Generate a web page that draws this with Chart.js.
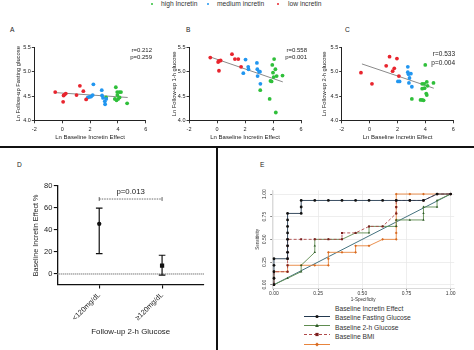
<!DOCTYPE html>
<html>
<head>
<meta charset="utf-8">
<script src="https://cdn.jsdelivr.net/npm/chart.js@4.4.1/dist/chart.umd.min.js"></script>
<style>
html,body{margin:0;padding:0;background:#fff;}
body{width:474px;height:350px;position:relative;overflow:hidden;font-family:"Liberation Sans",Arial,sans-serif;color:#222;}
canvas{position:absolute;display:block;}
.lbl{position:absolute;white-space:nowrap;line-height:1;}
.rule{position:absolute;background:#111;}
.dot{position:absolute;border-radius:50%;}
</style>
</head>
<body>
<div class="rule" style="left:0;top:146.2px;width:474px;height:1.6px"></div>
<div class="rule" style="left:216.2px;top:147px;width:1.6px;height:203px"></div>
<div class="lbl" style="left:10px;top:27.4px;font-size:6.6px">A</div>
<div class="lbl" style="left:186px;top:27.4px;font-size:6.6px">B</div>
<div class="lbl" style="left:345px;top:27.4px;font-size:6.6px">C</div>
<div class="lbl" style="left:17px;top:161.7px;font-size:6.6px">D</div>
<div class="lbl" style="left:260px;top:161.7px;font-size:6.6px">E</div>
<div id="topLegend"></div>
<div id="legendE"></div>
<script>
// ---------------- shared categories / ticks ----------------
const groupLabels = ['high Incretin', 'medium incretin', 'low incretin'];
const xTickValues = [-2, 0, 2, 4, 6];
const yTickValues = [4.0, 4.5, 5.0, 5.5];
const xTitleABC = 'Ln Baseline Incretin Effect';

// ---------------- panel A ----------------
const aLow = [[-0.50,4.58],[0.07,4.38],[0.10,4.51],[0.17,4.53],[0.26,4.55],[1.03,4.52],[1.27,4.71],[1.52,4.60],[1.72,4.43]];
const aMedium = [[1.84,4.47],[1.96,4.48],[2.08,4.49],[2.19,4.52],[2.24,4.74],[2.84,4.62],[2.86,4.51],[2.93,4.46],[3.06,4.39],[3.08,4.33],[3.16,4.44]];
const aHigh = [[3.15,4.47],[3.85,4.68],[3.95,4.58],[4.10,4.58],[4.22,4.58],[3.78,4.44],[3.90,4.41],[4.02,4.44],[3.96,4.52],[4.12,4.47],[4.66,4.35]];
const aFit = [[-0.5,4.57],[4.7,4.47]];
const aStats = ['r=0.212','p=0.259'];
const aYTitle = 'Ln Follow-up Fasting glucose';

// ---------------- panel B ----------------
const bLow = [[-0.48,5.29],[0.08,5.20],[0.14,5.22],[0.26,5.23],[0.14,5.02],[1.07,5.36],[1.28,5.26],[1.52,5.26],[1.72,5.10]];
const bMedium = [[2.04,5.25],[1.88,4.97],[2.23,5.10],[2.25,5.05],[2.85,5.18],[2.88,5.05],[2.90,4.91],[3.00,5.00],[3.07,5.00],[3.10,4.75]];
const bHigh = [[3.09,4.62],[3.76,4.44],[4.20,4.16],[4.08,5.26],[3.95,5.14],[4.17,5.05],[4.00,4.98],[4.26,4.91],[4.05,4.89],[3.82,4.81],[3.90,4.80],[4.68,4.92]];
const bFit = [[-0.45,5.30],[4.7,4.79]];
const bStats = ['r=0.558','p=0.001'];
const bYTitle = 'Ln Follow-up 1-h glucose';

// ---------------- panel C ----------------
const cLow = [[-0.62,4.98],[0.17,4.75],[1.19,5.12],[1.43,5.31],[1.96,5.27],[1.77,5.07],[1.65,5.01],[2.10,4.91]];
const cMedium = [[2.74,5.10],[2.74,4.99],[2.79,4.95],[2.96,4.96],[2.86,4.87],[2.82,4.77],[2.03,4.80],[2.15,4.80],[3.03,4.69]];
const cHigh = [[3.99,5.14],[3.03,4.44],[3.65,4.42],[3.77,4.42],[3.87,4.41],[3.77,4.75],[3.91,4.75],[4.10,4.79],[4.58,4.77],[4.15,4.71],[3.77,4.65],[3.94,4.66],[4.06,4.55],[4.10,4.52]];
const cFit = [[-0.55,5.16],[4.6,4.66]];
const cStats = ['r=0.533','p=0.004'];
const cYTitle = 'Ln Follow-up 2-h glucose';

// ---------------- panel D ----------------
const dGroups = ['<120mg/dL', '\u2265120mg/dL'];
const dMean = [45.5, 7.5];
const dUpper = [59.7, 17.0];
const dLower = [18.5, -1.0];
const dYTicks = [0, 20, 40, 60, 80];
const dPText = 'p=0.013';
const dPLevel = 68;
const dYTitle = 'Baseline Incretin Effect %';
const dXTitle = 'Follow-up 2-h Glucose';

// ---------------- panel E (ROC) ----------------
const rocTicks = [0, 0.25, 0.5, 0.75, 1];
const rocNames = ['Baseline Incretin Effect', 'Baseline Fasting Glucose', 'Baseline 2-h Glucose', 'Baseline BMI'];
const incretinFpr  = [0,0,0,0,0,.077,.077,.077,.077,.077,.077,.077,.077,.154,.154,.154,.231,.308,.385,.462,.538,.615,.692,.769,.846,.923,1];
const incretinSens = [0,.071,.143,.214,.286,.286,.357,.429,.5,.571,.643,.714,.786,.786,.857,.929,.929,.929,.929,.929,.929,.929,.929,.929,.929,1,1];
const fastingFpr   = [0,.077,.154,.154,.231,.231,.231,.308,.385,.462,.538,.538,.615,.692,.692,.769,.846,.846,.846,.923,.923,1];
const fastingSens  = [0,.071,.143,.214,.357,.429,.5,.5,.5,.571,.571,.643,.643,.643,.714,.714,.714,.786,.857,.857,.929,1];
const twoHFpr      = [0,0,0,.077,.077,.077,.077,.077,.077,.154,.231,.308,.385,.385,.462,.538,.615,.692,.692,.692,.769,.846,.923,1];
const twoHSens     = [0,.071,.143,.143,.214,.286,.357,.429,.5,.5,.5,.5,.5,.571,.571,.643,.643,.786,.857,.929,.929,.929,1,1];
const bmiFpr       = [0,0,0,.077,.077,.154,.231,.308,.308,.308,.385,.462,.462,.538,.615,.692,.692,.692,.692,.692,.692,.692,.692,.769,.846,.923,1];
const bmiSens      = [0,.071,.143,.143,.214,.214,.214,.214,.286,.357,.357,.357,.429,.429,.5,.5,.571,.643,.714,.786,.857,.929,1,1,1,1,1];
const refFpr = [0, 1];
const refSens = [0, 1];

// ---------------- helpers ----------------
const FONT = '"Liberation Sans", Arial, sans-serif';
Chart.defaults.font.family = FONT;
Chart.defaults.color = '#222';
const COL_HIGH = '#2fbf3a', COL_MED = '#2196f0', COL_LOW = '#e8252e';

function mkCanvas(box){
  const c = document.createElement('canvas');
  c.width = box.w; c.height = box.h;
  c.style.left = box.x + 'px'; c.style.top = box.y + 'px';
  c.style.width = box.w + 'px'; c.style.height = box.h + 'px';
  document.body.appendChild(c);
  return c;
}
function zeroPad(s){ s.paddingLeft = 0; s.paddingRight = 0; s.paddingTop = 0; s.paddingBottom = 0; }
function fixX(h){ return s => { s.height = h; zeroPad(s); }; }
function fixY(w){ return s => { s.width = w; zeroPad(s); }; }
function toXY(arr){ return arr.map(p => ({x: p[0], y: p[1]})); }
function zip(xs, ys){ return xs.map((x, i) => ({x: x, y: ys[i]})); }
function padFor(box, area, yW, xH){
  return {left: area.l - box.x - yW, top: area.t - box.y, right: box.x + box.w - area.r, bottom: box.y + box.h - area.b - xH};
}
const baseOpts = {responsive: false, animation: false, devicePixelRatio: 1, events: [],
  plugins: {legend: {display: false}, tooltip: {enabled: false}}};

function statsPlugin(lines, box, right, top, gap, size){
  return {id: 'stats', afterDraw(chart){
    const ctx = chart.ctx; ctx.save();
    ctx.font = size + 'px ' + FONT; ctx.fillStyle = '#222';
    ctx.textAlign = 'right'; ctx.textBaseline = 'middle';
    lines.forEach((t, i) => ctx.fillText(t, right - box.x, top - box.y + i * gap));
    ctx.restore();
  }};
}

function scatterPanel(box, area, yW, xH, low, med, high, fit, yTitle, stats, st){
  const cv = mkCanvas(box);
  const pt = c => ({backgroundColor: c, pointRadius: 1.9, pointBorderWidth: 0, borderWidth: 0});
  new Chart(cv, {
    type: 'scatter',
    data: {datasets: [
      Object.assign({label: groupLabels[2], data: toXY(low)}, pt(COL_LOW)),
      Object.assign({label: groupLabels[1], data: toXY(med)}, pt(COL_MED)),
      Object.assign({label: groupLabels[0], data: toXY(high)}, pt(COL_HIGH)),
      {label: 'fit', data: toXY(fit), showLine: true, borderColor: '#8a8a8a', borderWidth: 1, pointRadius: 0, order: 5}
    ]},
    options: Object.assign({}, baseOpts, {
      layout: {padding: padFor(box, area, yW, xH)},
      scales: {
        x: {type: 'linear', min: -2, max: 6,
          afterBuildTicks: s => { s.ticks = xTickValues.map(v => ({value: v})); },
          afterFit: fixX(xH),
          ticks: {font: {size: 5.5}, color: '#222', padding: 2.4, maxRotation: 0, autoSkip: false, callback: v => String(v)},
          grid: {drawOnChartArea: false, tickLength: 3, color: '#222', lineWidth: 0.9},
          border: {color: '#222', width: 1},
          title: {display: true, text: xTitleABC, font: {size: 6}, color: '#222', padding: 0}},
        y: {type: 'linear', min: 4, max: 5.5,
          afterBuildTicks: s => { s.ticks = yTickValues.map(v => ({value: v})); },
          afterFit: fixY(yW),
          ticks: {font: {size: 5.5}, color: '#222', padding: 1, autoSkip: false, callback: v => v.toFixed(1)},
          grid: {drawOnChartArea: false, tickLength: 2.5, color: '#222', lineWidth: 0.9},
          border: {color: '#222', width: 1},
          title: {display: true, text: yTitle, font: {size: 5.8}, color: '#222', padding: 0}}
      }
    }),
    plugins: [statsPlugin(stats, box, st.right, st.top, st.gap, st.size)]
  });
}

// top legend
(function(){
  const host = document.getElementById('topLegend');
  const items = [{dot: 152, text: 161, col: COL_HIGH}, {dot: 208, text: 217, col: COL_MED}, {dot: 278, text: 288, col: COL_LOW}];
  items.forEach((it, i) => {
    const d = document.createElement('div'); d.className = 'dot';
    d.style.cssText = `left:${it.dot - 1.3}px;top:${4 - 1.3}px;width:2.6px;height:2.6px;background:${it.col}`;
    host.appendChild(d);
    const t = document.createElement('div'); t.className = 'lbl';
    t.style.cssText = `left:${it.text}px;top:0.7px;font-size:6.7px;color:#333`;
    t.textContent = groupLabels[i];
    host.appendChild(t);
  });
})();

// panels A, B, C
scatterPanel({x: 0, y: 38, w: 160, h: 104}, {l: 34.3, t: 47.4, r: 145.8, b: 120.3}, 19.3, 20.9,
  aLow, aMedium, aHigh, aFit, aYTitle, aStats, {right: 152, top: 50.5, gap: 7, size: 6});
scatterPanel({x: 160, y: 38, w: 152, h: 104}, {l: 189, t: 47.4, r: 301, b: 120.3}, 18.5, 20.9,
  bLow, bMedium, bHigh, bFit, bYTitle, bStats, {right: 307, top: 50.5, gap: 7, size: 6});
scatterPanel({x: 312, y: 38, w: 162, h: 104}, {l: 341.7, t: 47.4, r: 453.3, b: 120.3}, 20.5, 20.9,
  cLow, cMedium, cHigh, cFit, cYTitle, cStats, {right: 455, top: 54.5, gap: 8.5, size: 6.5});

// panel D
(function(){
  const box = {x: 0, y: 178, w: 215, h: 164};
  const area = {l: 57.3, t: 185.8, r: 204, b: 285};
  const yW = 25.6, xH = 51.7;
  const cv = mkCanvas(box);
  const deco = {id: 'deco',
    beforeDatasetsDraw(chart){
      const {ctx, chartArea, scales: {x, y}} = chart;
      ctx.save();
      // dotted zero line
      ctx.strokeStyle = '#7a7a7a'; ctx.lineWidth = 1.4; ctx.setLineDash([1, 1]);
      ctx.beginPath(); ctx.moveTo(chartArea.left, y.getPixelForValue(0)); ctx.lineTo(chartArea.right, y.getPixelForValue(0)); ctx.stroke();
      // error bars
      ctx.setLineDash([]); ctx.strokeStyle = '#111'; ctx.lineWidth = 1.2;
      dMean.forEach((m, i) => {
        const px = x.getPixelForValue(i), pt = y.getPixelForValue(dUpper[i]), pb = y.getPixelForValue(dLower[i]);
        ctx.beginPath();
        ctx.moveTo(px, pt); ctx.lineTo(px, pb);
        ctx.moveTo(px - 3.3, pt); ctx.lineTo(px + 3.3, pt);
        ctx.moveTo(px - 3.3, pb); ctx.lineTo(px + 3.3, pb);
        ctx.stroke();
      });
      // significance bracket
      const py = y.getPixelForValue(dPLevel), x0 = x.getPixelForValue(0), x1 = x.getPixelForValue(1);
      ctx.strokeStyle = '#444'; ctx.lineWidth = 0.8; ctx.setLineDash([1.5, 1]);
      ctx.beginPath(); ctx.moveTo(x0, py); ctx.lineTo(x1, py); ctx.stroke();
      ctx.setLineDash([]);
      ctx.beginPath(); ctx.moveTo(x0, py - 2); ctx.lineTo(x0, py + 2); ctx.moveTo(x1, py - 2); ctx.lineTo(x1, py + 2); ctx.stroke();
      ctx.fillStyle = '#222'; ctx.font = '7.8px ' + FONT; ctx.textAlign = 'center'; ctx.textBaseline = 'middle';
      ctx.fillText(dPText, (x0 + x1) / 2, py - 6.8);
      ctx.restore();
    }};
  new Chart(cv, {
    type: 'scatter',
    data: {datasets: [{label: 'mean', data: dMean.map((m, i) => ({x: i, y: m})),
      pointStyle: ['circle', 'rect'], pointRadius: [2.2, 3.0], backgroundColor: '#111', pointBorderWidth: 0, borderWidth: 0}]},
    options: Object.assign({}, baseOpts, {
      layout: {padding: padFor(box, area, yW, xH)},
      scales: {
        x: {type: 'linear', min: -0.667, max: 1.667,
          afterBuildTicks: s => { s.ticks = dGroups.map((g, i) => ({value: i})); },
          afterFit: fixX(xH),
          ticks: {font: {size: 7.2}, color: '#222', padding: 2.5, minRotation: 45, maxRotation: 45, autoSkip: false,
            callback: v => dGroups[Math.round(v)]},
          grid: {drawOnChartArea: false, tickLength: 3.5, color: '#111', lineWidth: 1.1},
          border: {color: '#111', width: 1.3},
          title: {display: true, text: dXTitle, font: {size: 7.9}, color: '#222', padding: 0}},
        y: {type: 'linear', min: -10, max: 80,
          afterBuildTicks: s => { s.ticks = dYTicks.map(v => ({value: v})); },
          afterFit: fixY(yW),
          ticks: {font: {size: 7.5}, color: '#222', padding: 1.5, autoSkip: false, callback: v => String(v)},
          grid: {drawOnChartArea: false, tickLength: 3.5, color: '#111', lineWidth: 1.1},
          border: {color: '#111', width: 1.3},
          title: {display: true, text: dYTitle, font: {size: 7.2}, color: '#222', padding: 0}}
      }
    }),
    plugins: [deco]
  });
})();

// panel E
(function(){
  const box = {x: 222, y: 180, w: 252, h: 126};
  const area = {l: 272.2, t: 190.4, r: 454.2, b: 288.3};
  const yW = 17, xH = 14;
  const cv = mkCanvas(box);
  const roc = (i, fpr, sens, line, ptCol, style, dash, order) => ({label: rocNames[i], data: zip(fpr, sens), showLine: true,
    borderColor: line, borderWidth: 0.9, borderDash: dash, pointStyle: style, pointRadius: 1.4,
    pointBackgroundColor: ptCol, pointBorderColor: ptCol, pointBorderWidth: 0, tension: 0, order: order});
  const datasets = [
    roc(0, incretinFpr, incretinSens, '#23394f', '#111111', 'circle', [], 1),
    roc(1, fastingFpr, fastingSens, '#5f8c50', '#2f5a28', 'triangle', [], 3),
    roc(2, twoHFpr, twoHSens, '#b04a4a', '#7a1e1e', 'rect', [3, 2], 2),
    roc(3, bmiFpr, bmiSens, '#e8843c', '#d86a20', 'rectRot', [], 4),
    {label: 'Reference', data: zip(refFpr, refSens), showLine: true, borderColor: '#2f6270', borderWidth: 0.9, pointRadius: 0, order: 5}
  ];
  const tickFont = {size: 5};
  new Chart(cv, {
    type: 'scatter',
    data: {datasets: datasets},
    options: Object.assign({}, baseOpts, {
      layout: {padding: padFor(box, area, yW, xH)},
      scales: {
        x: {type: 'linear', min: -0.01, max: 1.02,
          afterBuildTicks: s => { s.ticks = rocTicks.map(v => ({value: v})); },
          afterFit: fixX(xH),
          ticks: {font: tickFont, color: '#333', padding: 0.7, maxRotation: 0, autoSkip: false, callback: v => v.toFixed(2)},
          grid: {color: '#e6e6e6', lineWidth: 0.7, tickLength: 2, tickColor: '#555', tickWidth: 0.7},
          border: {color: '#d0d0d0', width: 0.8},
          title: {display: true, text: '1-Specificity', font: {size: 4.6}, color: '#333', padding: 0}},
        y: {type: 'linear', min: -0.04, max: 1.04,
          afterBuildTicks: s => { s.ticks = rocTicks.map(v => ({value: v})); },
          afterFit: fixY(yW),
          ticks: {font: tickFont, color: '#333', padding: 0.5, minRotation: 90, maxRotation: 90, crossAlign: 'center', autoSkip: false,
            callback: v => v.toFixed(2)},
          grid: {color: '#e6e6e6', lineWidth: 0.7, tickLength: 2, tickColor: '#555', tickWidth: 0.7},
          border: {color: '#d0d0d0', width: 0.8},
          title: {display: true, text: 'Sensitivity', font: {size: 4.6}, color: '#333', padding: 0}}
      }
    })
  });
  // HTML legend built from the datasets
  const host = document.getElementById('legendE');
  datasets.slice(0, 4).forEach((ds, i) => {
    const cy = 309.5 + i * 9.2;
    const w = 26, h = 7, my = 3.5, mx = 13, c = ds.pointBackgroundColor;
    let mk;
    if (ds.pointStyle === 'circle') mk = `<circle cx="${mx}" cy="${my}" r="1.6" fill="${c}"/>`;
    else if (ds.pointStyle === 'triangle') mk = `<polygon points="${mx},${my-2} ${mx+1.9},${my+1.4} ${mx-1.9},${my+1.4}" fill="${c}"/>`;
    else if (ds.pointStyle === 'rect') mk = `<rect x="${mx-1.6}" y="${my-1.6}" width="3.2" height="3.2" fill="${c}"/>`;
    else mk = `<polygon points="${mx},${my-2} ${mx+2},${my} ${mx},${my+2} ${mx-2},${my}" fill="${c}"/>`;
    const dash = ds.borderDash.length ? `stroke-dasharray="${ds.borderDash.join(',')}"` : '';
    const s = document.createElement('div');
    s.style.cssText = `position:absolute;left:304px;top:${cy - 3.5}px;width:${w}px;height:${h}px`;
    s.innerHTML = `<svg width="${w}" height="${h}" xmlns="http://www.w3.org/2000/svg"><line x1="0" y1="${my}" x2="${w}" y2="${my}" stroke="${ds.borderColor}" stroke-width="1" ${dash}/>${mk}</svg>`;
    host.appendChild(s);
    const t = document.createElement('div'); t.className = 'lbl';
    t.style.cssText = `left:335px;top:${cy - 3.4}px;font-size:6.7px;color:#333`;
    t.textContent = ds.label;
    host.appendChild(t);
  });
})();
</script>
</body>
</html>
